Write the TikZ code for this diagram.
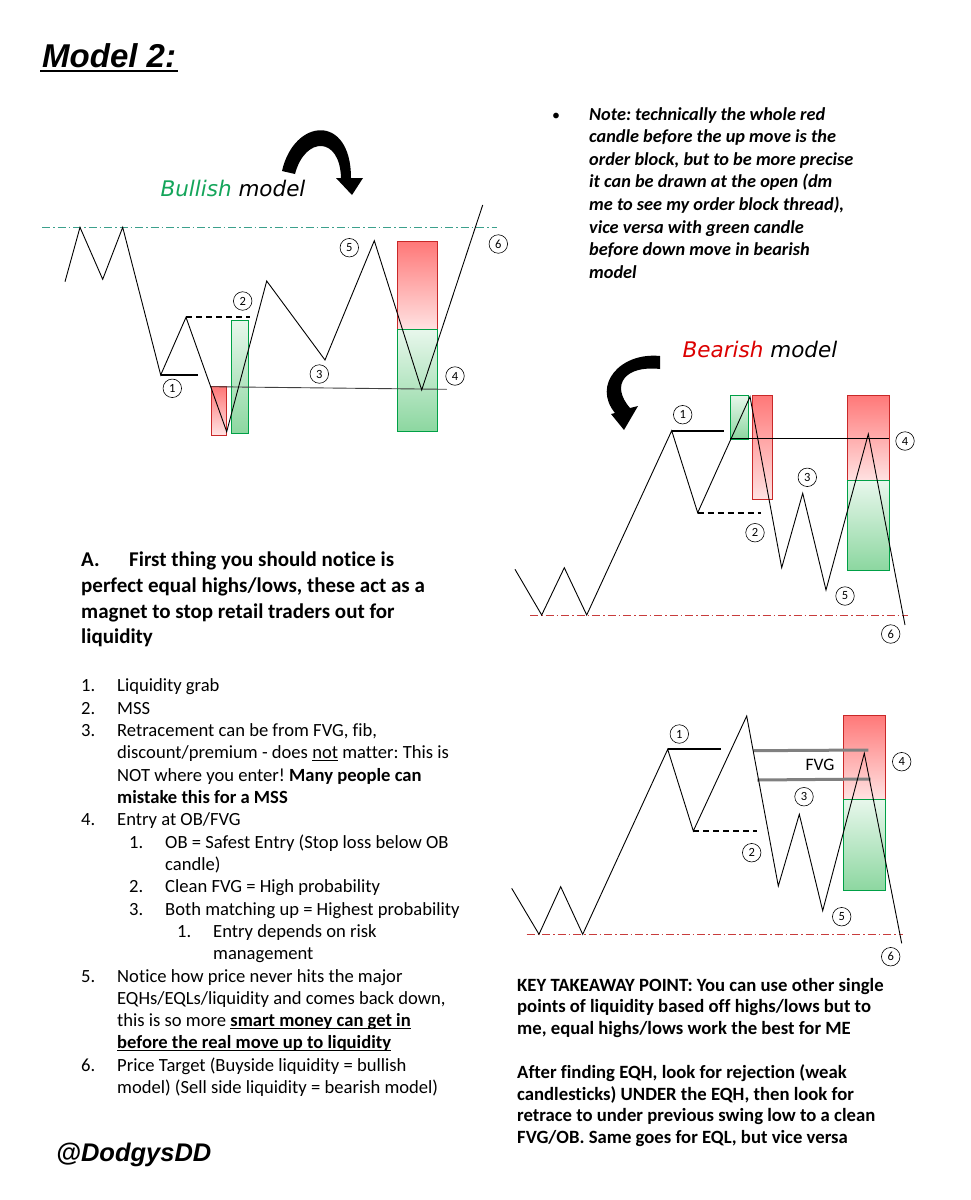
\documentclass[tikz,border=0pt]{standalone}
\usepackage{fontspec}
\setmainfont{Carlito}[Ligatures=NoCommon]
\newfontfamily\arialf{Liberation Sans}
\newfontfamily\dejaf{DejaVu Sans}
\newcommand\myul[1]{\setbox0\hbox{#1}\rlap{\rule[-2.3pt]{\wd0}{0.9pt}}\copy0\relax}
\definecolor{redtop}{RGB}{255,120,120}
\definecolor{redbot}{RGB}{255,226,226}
\definecolor{redb}{RGB}{200,40,40}
\definecolor{greentop}{RGB}{232,247,236}
\definecolor{greenbot}{RGB}{140,215,160}
\definecolor{greenb}{RGB}{0,160,70}
\definecolor{tealline}{RGB}{60,160,140}
\definecolor{redline}{RGB}{200,60,60}
\definecolor{bullg}{RGB}{20,165,90}
\definecolor{bearr}{RGB}{220,0,0}
\definecolor{fvggray}{RGB}{128,128,128}
\frenchspacing
\begin{document}
\begin{tikzpicture}[x=1pt,y=-1pt,
  price/.style={line width=0.9pt, black, line join=miter},
  lvl/.style={line width=2pt, black},
  lvldash/.style={line width=2pt, black, dash pattern=on 6pt off 4pt},
  ddot/.style={line width=0.9pt, dash pattern=on 8pt off 3pt on 1.5pt off 3pt},
  redc/.style={draw=redb, line width=0.6pt, top color=redtop, bottom color=redbot},
  greenc/.style={draw=greenb, line width=0.6pt, top color=greentop, bottom color=greenbot},
  num/.style={circle, draw, line width=0.6pt, minimum size=18.5pt, inner sep=0pt, font=\fontsize{12.5}{12.5}\selectfont},
  ln/.style={anchor=base west, inner sep=0pt, font=\fontsize{18.6}{20}\selectfont},
  hd/.style={anchor=base west, inner sep=0pt, font=\fontsize{21}{22}\selectfont\bfseries},
  nt/.style={anchor=base west, inner sep=0pt, font=\fontsize{18.3}{20}\selectfont\bfseries\itshape},
  kt/.style={anchor=base west, inner sep=0pt, font=\fontsize{18.7}{20}\selectfont\bfseries},
  mdl/.style={anchor=base, inner sep=0pt, font=\fontsize{21.5}{24}\selectfont\dejaf\itshape}
]
\useasboundingbox (0,0) rectangle (970,1200);
\fill[white] (0,0) rectangle (970,1200);

% Title
\node[anchor=base west, inner sep=0pt, font=\fontsize{33}{36}\selectfont\arialf\bfseries\itshape] (title) at (42,67.3) {Model 2:};
\draw[line width=1.8pt] (40,71) -- (178,71);

% ---------------- Bullish model ----------------
\node[mdl] (bulllbl) at (233,196) {\textcolor{bullg}{Bullish} model};
\fill[black] (282,171) .. controls (294,118) and (351,113) .. (351,178) -- (363,178) -- (352,195) -- (336,178) -- (341,178) .. controls (340,136) and (305,136) .. (295,174) -- cycle;
\draw[ddot, tealline] (42,227.3) -- (497,227.3);
\shade[redc] (211,386.7) rectangle (226.7,435);
\shade[greenc] (231,320) rectangle (248.3,433.3);
\shade[redc] (397.3,241.7) rectangle (437.3,329.3);
\shade[greenc] (397.3,329.3) rectangle (437.3,431.7);
\draw[line width=0.9pt, black!75] (211,386.7) -- (446.7,389.3);
\draw[lvl] (160.7,375) -- (197.7,375);
\draw[lvldash] (186,316.7) -- (250,316.7);
\draw[price] (65,281.7) -- (80,227.3) -- (102.7,279.3) -- (122.7,227.3) -- (160.7,375) -- (186,317.3) -- (226.7,431.7) -- (266.7,281) -- (325,360) -- (374.3,240.7) -- (421.7,390) -- (482.7,205);
\node[num] (b1) at (172.3,388.3) {1};
\node[num] (b2) at (242.7,301) {2};
\node[num] (b3) at (319.3,374) {3};
\node[num] (b4) at (455,376) {4};
\node[num] (b5) at (349.3,247.7) {5};
\node[num] (b6) at (498.3,244) {6};

% ---------------- Note ----------------
\node[anchor=base west, inner sep=0pt, font=\fontsize{16}{18}\selectfont] (bul) at (552,120) {•};
\node[nt] (n1) at (589,120) {Note: technically the whole red};
\node[nt] (n2) at (589,142.6) {candle before the up move is the};
\node[nt] (n3) at (589,165.2) {order block, but to be more precise};
\node[nt] (n4) at (589,187.8) {it can be drawn at the open (dm};
\node[nt] (n5) at (589,210.4) {me to see my order block thread),};
\node[nt] (n6) at (589,233) {vice versa with green candle};
\node[nt] (n7) at (589,255.6) {before down move in bearish};
\node[nt] (n8) at (589,278.2) {model};

% ---------------- Bearish model ----------------
\node[mdl] (bearlbl) at (760,357) {\textcolor{bearr}{Bearish} model};
\fill[black] (660,356) .. controls (620,352) and (592,385) .. (615,413) -- (611,414) -- (624,430) -- (638,406) -- (630,408) .. controls (610,385) and (625,365) .. (660,369) -- cycle;
\draw[ddot, redline] (530,615) -- (908,615);
\shade[greenc] (730,395) rectangle (748.3,439);
\shade[redc] (752.3,395) rectangle (772.7,499.3);
\shade[redc] (847.7,395) rectangle (889.3,480.7);
\shade[greenc] (847.7,480.7) rectangle (889.3,570);
\draw[line width=0.9pt, black] (730,438.7) -- (889.3,438.7);
\draw[lvl] (671.7,430.7) -- (724,430.7);
\draw[lvldash] (697.7,512.7) -- (760.7,512.7);
\draw[price] (515,569.3) -- (541.7,615) -- (564.3,567.7) -- (586.7,615) -- (671.7,430.7) -- (697.7,512.7) -- (750,396.7) -- (781.7,567.7) -- (802.7,493.3) -- (826,590) -- (868.3,434) -- (905,625);
\node[num] (r1) at (682.7,414.7) {1};
\node[num] (r2) at (755,532.7) {2};
\node[num] (r3) at (807.3,477.3) {3};
\node[num] (r4) at (905,441) {4};
\node[num] (r5) at (845,596) {5};
\node[num] (r6) at (890.7,634) {6};

% ---------------- Bottom-right chart ----------------
\draw[ddot, redline] (526.7,934.3) -- (903.3,934.3);
\shade[redc] (843.3,715) rectangle (885.7,799);
\shade[greenc] (843.3,799) rectangle (885.7,890.7);
\draw[line width=3pt, fvggray] (753.3,750.7) -- (868.3,750);
\draw[line width=3pt, fvggray] (757.3,780) -- (870.7,779);
\node[anchor=center, inner sep=0pt, font=\fontsize{17.5}{20}\selectfont] (fvg) at (820,765) {FVG};
\draw[lvl] (667.7,749.3) -- (720.7,749.3);
\draw[lvldash] (693.3,831) -- (756.7,831);
\draw[price] (511.7,888.3) -- (539,934.3) -- (560.7,886.7) -- (582.7,934.3) -- (667.7,749.3) -- (693.3,831) -- (746.7,716) -- (778.3,886) -- (799.3,814.3) -- (822.7,910.7) -- (864.3,753.3) -- (901.7,943.3);
\node[num] (c1) at (679.3,734) {1};
\node[num] (c2) at (751.7,852.7) {2};
\node[num] (c3) at (804,796.7) {3};
\node[num] (c4) at (901.7,761.7) {4};
\node[num] (c5) at (841.7,916.7) {5};
\node[num] (c6) at (890.7,956.7) {6};

% ---------------- Section A ----------------
\node[hd] (a0) at (81,566.8) {A.};
\node[hd] (a1) at (129,566.8) {First thing you should notice is};
\node[hd] (a2) at (81,592.5) {perfect equal highs/lows, these act as a};
\node[hd] (a3) at (81,618.1) {magnet to stop retail traders out for};
\node[hd] (a4) at (81,643.7) {liquidity};

% list
\node[ln] (l1n) at (81,691.8) {1.};
\node[ln] (l1) at (117,691.8) {Liquidity grab};
\node[ln] (l2n) at (81,714.1) {2.};
\node[ln] (l2) at (117,714.1) {MSS};
\node[ln] (l3n) at (81,736.4) {3.};
\node[ln] (l3) at (117,736.4) {Retracement can be from FVG, fib,};
\node[ln] (l3b) at (117,758.8) {discount/premium - does \myul{not} matter: This is};
\node[ln] (l3c) at (117,781.1) {NOT where you enter! \textbf{Many people can}};
\node[ln] (l3d) at (117,803.4) {\textbf{mistake this for a MSS}};
\node[ln] (l4n) at (81,825.7) {4.};
\node[ln] (l4) at (117,825.7) {Entry at OB/FVG};
\node[ln] (l41n) at (129,848.0) {1.};
\node[ln] (l41) at (165,848.0) {OB = Safest Entry (Stop loss below OB};
\node[ln] (l41b) at (165,870.4) {candle)};
\node[ln] (l42n) at (129,892.7) {2.};
\node[ln] (l42) at (165,892.7) {Clean FVG = High probability};
\node[ln] (l43n) at (129,915.0) {3.};
\node[ln] (l43) at (165,915.0) {Both matching up = Highest probability};
\node[ln] (l431n) at (177,937.3) {1.};
\node[ln] (l431) at (213,937.3) {Entry depends on risk};
\node[ln] (l431b) at (213,959.6) {management};
\node[ln] (l5n) at (81,982.0) {5.};
\node[ln] (l5) at (117,982.0) {Notice how price never hits the major};
\node[ln] (l5b) at (117,1004.3) {EQHs/EQLs/liquidity and comes back down,};
\node[ln] (l5c) at (117,1026.6) {this is so more \textbf{\myul{smart money can get in}}};
\node[ln] (l5d) at (117,1048.9) {\textbf{\myul{before the real move up to liquidity}}};
\node[ln] (l6n) at (81,1071.2) {6.};
\node[ln] (l6) at (117,1071.2) {Price Target (Buyside liquidity = bullish};
\node[ln] (l6b) at (117,1093.6) {model) (Sell side liquidity = bearish model)};

% ---------------- Key takeaway ----------------
\node[kt] (k1) at (517,991) {KEY TAKEAWAY POINT: You can use other single};
\node[kt] (k2) at (517,1012.7) {points of liquidity based off highs/lows but to};
\node[kt] (k3) at (517,1034.3) {me, equal highs/lows work the best for ME};
\node[kt] (k4) at (517,1078.3) {After finding EQH, look for rejection (weak};
\node[kt] (k5) at (517,1100) {candlesticks) UNDER the EQH, then look for};
\node[kt] (k6) at (517,1121.7) {retrace to under previous swing low to a clean};
\node[kt] (k7) at (517,1143.5) {FVG/OB. Same goes for EQL, but vice versa};

% signature
\node[anchor=base west, inner sep=0pt, font=\fontsize{25.5}{28}\selectfont\arialf\bfseries\itshape] (sig) at (56,1161.7) {@DodgysDD};
\end{tikzpicture}
\end{document}
